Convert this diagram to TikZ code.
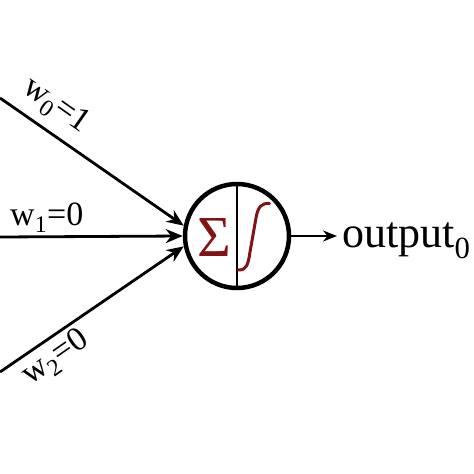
\documentclass[tikz,border=0pt]{standalone}
\usepackage{fontspec}
\setmainfont{Liberation Serif}
\usetikzlibrary{arrows.meta}
\definecolor{maroon}{RGB}{130,18,20}
\tikzset{
  neuron/.style={circle,draw=black,line width=4.5pt,minimum size=104pt,inner sep=0pt},
  inarrow/.style={line width=2.8pt,-{Stealth[length=17pt,width=14pt]}},
  outarrow/.style={line width=2.4pt,-{Stealth[length=14pt,width=11pt]}},
  wlabel/.style={font=\fontsize{34}{40}\selectfont,inner sep=0pt},
  outlabel/.style={font=\fontsize{44}{50}\selectfont,inner sep=0pt},
}
\begin{document}
\begin{tikzpicture}[x=1pt,y=-1pt]
\useasboundingbox (0,0) rectangle (474,474);
\node[neuron] (n) at (237,236) {};
\draw[line width=2pt] (n.north) -- (n.south);
\node[text=maroon,inner sep=0pt,font=\fontsize{58}{62}\selectfont,anchor=base] (sig) at (214.5,256) {Σ};
\draw[maroon,line width=3pt,line cap=round] (238.5,270) .. controls (246,270) and (248,266) .. (250,252) -- (256,218) .. controls (258,206) and (262,203) .. (269.5,203.5);
\coordinate (a0) at (0,98);
\coordinate (a1) at (0,237);
\coordinate (a2) at (0,372);
\draw[inarrow] (a0) -- (n.169);
\draw[inarrow] (a1) -- (n.180);
\draw[inarrow] (a2) -- (n.191);
\node[wlabel,rotate=-35] (w0) at (56,106) {w\textsubscript{0}=1};
\node[wlabel,anchor=base west] (w1) at (10,225) {w\textsubscript{1}=0};
\node[wlabel,rotate=35] (w2) at (56,358) {w\textsubscript{2}=0};
\node[outlabel,anchor=base west] (out) at (342,247) {output\textsubscript{0}};
\draw[outarrow,shorten >=5pt] (n.east) -- (n.east -| out.west);
\end{tikzpicture}
\end{document}
